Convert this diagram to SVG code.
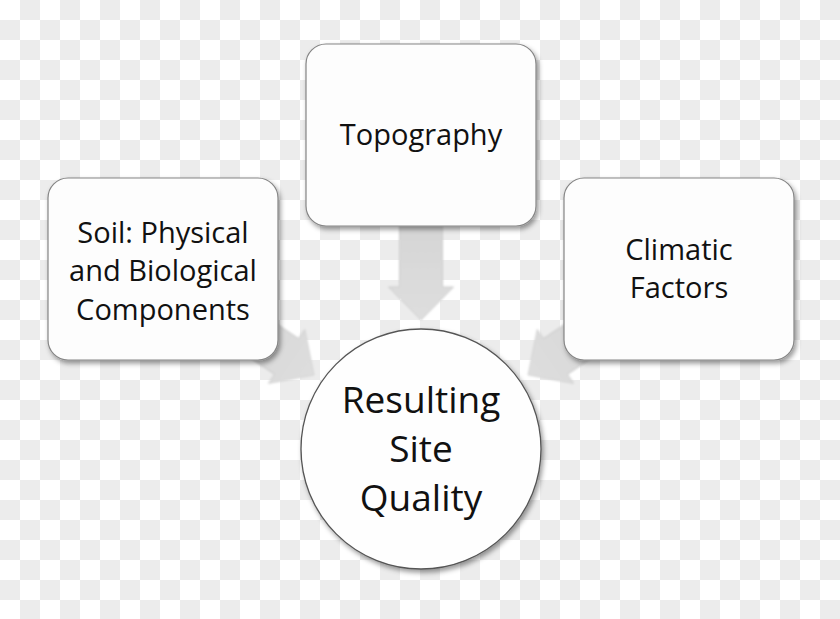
<svg xmlns="http://www.w3.org/2000/svg" width="840" height="619" viewBox="0 0 840 619">
  <defs>
    <pattern id="checker" x="0" y="0" width="40" height="40" patternUnits="userSpaceOnUse">
      <rect x="0" y="0" width="40" height="40" fill="#ffffff"/>
      <rect x="20" y="0" width="20" height="20" fill="#ececec"/>
      <rect x="0" y="20" width="20" height="20" fill="#ececec"/>
    </pattern>
    <filter id="shadow" x="-20%" y="-20%" width="140%" height="140%">
      <feDropShadow dx="2" dy="3" stdDeviation="2.5" flood-color="#000" flood-opacity="0.4"/>
    </filter>
    <filter id="soft" x="-20%" y="-20%" width="140%" height="140%">
      <feGaussianBlur stdDeviation="0.8"/>
    </filter>
    <linearGradient id="arrowGrad" x1="0" y1="0" x2="1" y2="0">
      <stop offset="0" stop-color="#d4d4d4"/>
      <stop offset="1" stop-color="#dedede"/>
    </linearGradient>
    <path id="blockArrow" d="M0,0 L-33,-32.5 L-33,-21.5 L-110,-21.5 L-110,21.5 L-33,21.5 L-33,32.5 Z"/>
  </defs>
  <style>
    .box { fill: #fdfdfd; stroke: #858585; stroke-width: 1.2; filter: url(#shadow); }
    .circ { fill: #fefefe; stroke: #555555; stroke-width: 1.3; filter: url(#shadow); }
    .arrow { fill: url(#arrowGrad); stroke: #cccccc; stroke-width: 1; filter: url(#soft); }
    .lbl { font-family: "Open Sans", "Noto Sans", sans-serif; fill: #111111; text-anchor: middle; }
    .small { font-size: 29px; }
    .big { font-size: 37px; }
  </style>

  <rect x="0" y="0" width="840" height="619" fill="url(#checker)"/>

  <g id="connectors">
    <use href="#blockArrow" class="arrow" transform="translate(421,320) rotate(90)"/>
    <use href="#blockArrow" class="arrow" transform="translate(314,375) rotate(34)"/>
    <use href="#blockArrow" class="arrow" transform="translate(528,375) rotate(146)"/>
  </g>

  <g id="soil">
    <rect class="box" x="48" y="178" width="230" height="182" rx="20" ry="20"/>
    <text class="lbl small" x="163" y="243">Soil: Physical</text>
    <text class="lbl small" x="163" y="281">and Biological</text>
    <text class="lbl small" x="163" y="320">Components</text>
  </g>

  <g id="topography">
    <rect class="box" x="306" y="44" width="230" height="182" rx="20" ry="20"/>
    <text class="lbl small" x="421" y="145">Topography</text>
  </g>

  <g id="climatic">
    <rect class="box" x="564" y="178" width="230" height="182" rx="20" ry="20"/>
    <text class="lbl small" x="679" y="260">Climatic</text>
    <text class="lbl small" x="679" y="298">Factors</text>
  </g>

  <g id="site-quality">
    <circle class="circ" cx="421" cy="449" r="120"/>
    <text class="lbl big" x="421" y="413">Resulting</text>
    <text class="lbl big" x="421" y="462">Site</text>
    <text class="lbl big" x="421" y="511">Quality</text>
  </g>
</svg>
